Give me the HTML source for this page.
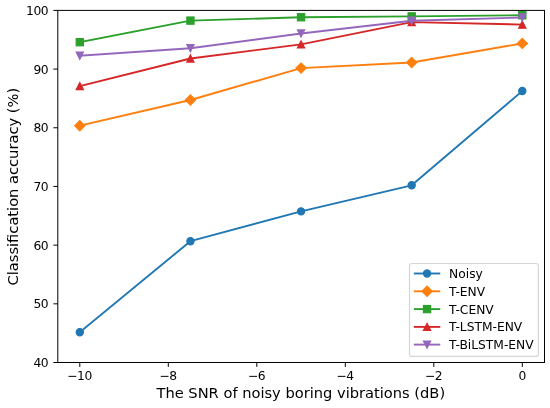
<!DOCTYPE html>
<html lang="en"><head><meta charset="utf-8"><title>Classification accuracy vs SNR</title>
<style>html,body{margin:0;padding:0;background:#fff;overflow:hidden}svg{display:block}text{font-family:"DejaVu Sans","Liberation Sans",sans-serif;fill:#000}</style></head><body>
<svg width="550" height="408" viewBox="0 0 550 408">
<rect width="550" height="408" fill="#fff"/>
<defs><clipPath id="ax"><rect x="57.8" y="10.4" width="486.70" height="352.10"/></clipPath></defs>
<g stroke="#000" stroke-width="1.0">
<line x1="79.80" y1="362.5" x2="79.80" y2="366.90"/>
<line x1="168.30" y1="362.5" x2="168.30" y2="366.90"/>
<line x1="256.80" y1="362.5" x2="256.80" y2="366.90"/>
<line x1="345.30" y1="362.5" x2="345.30" y2="366.90"/>
<line x1="433.80" y1="362.5" x2="433.80" y2="366.90"/>
<line x1="522.30" y1="362.5" x2="522.30" y2="366.90"/>
<line x1="57.8" y1="362.50" x2="53.40" y2="362.50"/>
<line x1="57.8" y1="303.82" x2="53.40" y2="303.82"/>
<line x1="57.8" y1="245.13" x2="53.40" y2="245.13"/>
<line x1="57.8" y1="186.45" x2="53.40" y2="186.45"/>
<line x1="57.8" y1="127.77" x2="53.40" y2="127.77"/>
<line x1="57.8" y1="69.08" x2="53.40" y2="69.08"/>
<line x1="57.8" y1="10.40" x2="53.40" y2="10.40"/>
</g>
<g font-size="12.3" letter-spacing="-0.4">
<text x="79.60" y="380.1" text-anchor="middle">−10</text>
<text x="168.10" y="380.1" text-anchor="middle">−8</text>
<text x="256.60" y="380.1" text-anchor="middle">−6</text>
<text x="345.10" y="380.1" text-anchor="middle">−4</text>
<text x="433.60" y="380.1" text-anchor="middle">−2</text>
<text x="522.10" y="380.1" text-anchor="middle">0</text>
<text x="48.3" y="367.00" text-anchor="end">40</text>
<text x="48.3" y="308.32" text-anchor="end">50</text>
<text x="48.3" y="249.63" text-anchor="end">60</text>
<text x="48.3" y="190.95" text-anchor="end">70</text>
<text x="48.3" y="132.27" text-anchor="end">80</text>
<text x="48.3" y="73.58" text-anchor="end">90</text>
<text x="48.3" y="14.90" text-anchor="end">100</text>
</g>
<text x="300.8" y="398.3" font-size="14.65" text-anchor="middle">The SNR of noisy boring vibrations (dB)</text>
<text transform="translate(17.6 186.7) rotate(-90)" font-size="14.65" text-anchor="middle">Classification accuracy (%)</text>
<g clip-path="url(#ax)">
<polyline points="79.80,332.20 190.43,241.20 301.05,211.40 411.68,185.30 522.30,91.00" fill="none" stroke="#1f77b4" stroke-width="1.9" stroke-linejoin="round" stroke-linecap="square"/>
<circle cx="79.80" cy="332.20" r="3.60" fill="#1f77b4" stroke="#1f77b4" stroke-width="1.2" stroke-linejoin="miter"/>
<circle cx="190.43" cy="241.20" r="3.60" fill="#1f77b4" stroke="#1f77b4" stroke-width="1.2" stroke-linejoin="miter"/>
<circle cx="301.05" cy="211.40" r="3.60" fill="#1f77b4" stroke="#1f77b4" stroke-width="1.2" stroke-linejoin="miter"/>
<circle cx="411.68" cy="185.30" r="3.60" fill="#1f77b4" stroke="#1f77b4" stroke-width="1.2" stroke-linejoin="miter"/>
<circle cx="522.30" cy="91.00" r="3.60" fill="#1f77b4" stroke="#1f77b4" stroke-width="1.2" stroke-linejoin="miter"/>
<polyline points="79.80,125.70 190.43,100.00 301.05,68.10 411.68,62.50 522.30,43.40" fill="none" stroke="#ff7f0e" stroke-width="1.9" stroke-linejoin="round" stroke-linecap="square"/>
<path d="M79.80 120.61L84.89 125.70L79.80 130.79L74.71 125.70Z" fill="#ff7f0e" stroke="#ff7f0e" stroke-width="1.2" stroke-linejoin="miter"/>
<path d="M190.43 94.91L195.52 100.00L190.43 105.09L185.33 100.00Z" fill="#ff7f0e" stroke="#ff7f0e" stroke-width="1.2" stroke-linejoin="miter"/>
<path d="M301.05 63.01L306.14 68.10L301.05 73.19L295.96 68.10Z" fill="#ff7f0e" stroke="#ff7f0e" stroke-width="1.2" stroke-linejoin="miter"/>
<path d="M411.68 57.41L416.77 62.50L411.68 67.59L406.58 62.50Z" fill="#ff7f0e" stroke="#ff7f0e" stroke-width="1.2" stroke-linejoin="miter"/>
<path d="M522.30 38.31L527.39 43.40L522.30 48.49L517.21 43.40Z" fill="#ff7f0e" stroke="#ff7f0e" stroke-width="1.2" stroke-linejoin="miter"/>
<polyline points="79.80,42.20 190.43,20.60 301.05,17.25 411.68,16.40 522.30,15.20" fill="none" stroke="#2ca02c" stroke-width="1.9" stroke-linejoin="round" stroke-linecap="square"/>
<rect x="76.20" y="38.60" width="7.20" height="7.20" fill="#2ca02c" stroke="#2ca02c" stroke-width="1.2" stroke-linejoin="miter"/>
<rect x="186.83" y="17.00" width="7.20" height="7.20" fill="#2ca02c" stroke="#2ca02c" stroke-width="1.2" stroke-linejoin="miter"/>
<rect x="297.45" y="13.65" width="7.20" height="7.20" fill="#2ca02c" stroke="#2ca02c" stroke-width="1.2" stroke-linejoin="miter"/>
<rect x="408.07" y="12.80" width="7.20" height="7.20" fill="#2ca02c" stroke="#2ca02c" stroke-width="1.2" stroke-linejoin="miter"/>
<rect x="518.70" y="11.60" width="7.20" height="7.20" fill="#2ca02c" stroke="#2ca02c" stroke-width="1.2" stroke-linejoin="miter"/>
<polyline points="79.80,86.10 190.43,58.50 301.05,44.40 411.68,22.10 522.30,24.60" fill="none" stroke="#d62728" stroke-width="1.9" stroke-linejoin="round" stroke-linecap="square"/>
<path d="M79.80 82.50L83.40 89.70L76.20 89.70Z" fill="#d62728" stroke="#d62728" stroke-width="1.2" stroke-linejoin="miter"/>
<path d="M190.43 54.90L194.03 62.10L186.83 62.10Z" fill="#d62728" stroke="#d62728" stroke-width="1.2" stroke-linejoin="miter"/>
<path d="M301.05 40.80L304.65 48.00L297.45 48.00Z" fill="#d62728" stroke="#d62728" stroke-width="1.2" stroke-linejoin="miter"/>
<path d="M411.68 18.50L415.28 25.70L408.07 25.70Z" fill="#d62728" stroke="#d62728" stroke-width="1.2" stroke-linejoin="miter"/>
<path d="M522.30 21.00L525.90 28.20L518.70 28.20Z" fill="#d62728" stroke="#d62728" stroke-width="1.2" stroke-linejoin="miter"/>
<polyline points="79.80,55.70 190.43,48.20 301.05,33.50 411.68,20.70 522.30,17.50" fill="none" stroke="#9467bd" stroke-width="1.9" stroke-linejoin="round" stroke-linecap="square"/>
<path d="M79.80 59.30L83.40 52.10L76.20 52.10Z" fill="#9467bd" stroke="#9467bd" stroke-width="1.2" stroke-linejoin="miter"/>
<path d="M190.43 51.80L194.03 44.60L186.83 44.60Z" fill="#9467bd" stroke="#9467bd" stroke-width="1.2" stroke-linejoin="miter"/>
<path d="M301.05 37.10L304.65 29.90L297.45 29.90Z" fill="#9467bd" stroke="#9467bd" stroke-width="1.2" stroke-linejoin="miter"/>
<path d="M411.68 24.30L415.28 17.10L408.07 17.10Z" fill="#9467bd" stroke="#9467bd" stroke-width="1.2" stroke-linejoin="miter"/>
<path d="M522.30 21.10L525.90 13.90L518.70 13.90Z" fill="#9467bd" stroke="#9467bd" stroke-width="1.2" stroke-linejoin="miter"/>
</g>
<rect x="57.8" y="10.4" width="486.70" height="352.10" fill="none" stroke="#000" stroke-width="1.0" stroke-linejoin="miter"/>
<rect x="409.5" y="263.5" width="128.90" height="92.90" rx="2.5" ry="2.5" fill="#fff" fill-opacity="0.8" stroke="#ccc" stroke-opacity="0.8" stroke-width="1.2"/>
<g font-size="12.25">
<line x1="414.8" y1="273.5" x2="439.3" y2="273.5" stroke="#1f77b4" stroke-width="1.9" stroke-linecap="square"/>
<circle cx="427.05" cy="273.50" r="3.60" fill="#1f77b4" stroke="#1f77b4" stroke-width="1.2" stroke-linejoin="miter"/>
<text x="449.1" y="278.30">Noisy</text>
<line x1="414.8" y1="291.3" x2="439.3" y2="291.3" stroke="#ff7f0e" stroke-width="1.9" stroke-linecap="square"/>
<path d="M427.05 286.21L432.14 291.30L427.05 296.39L421.96 291.30Z" fill="#ff7f0e" stroke="#ff7f0e" stroke-width="1.2" stroke-linejoin="miter"/>
<text x="449.1" y="296.00">T-ENV</text>
<line x1="414.8" y1="309.1" x2="439.3" y2="309.1" stroke="#2ca02c" stroke-width="1.9" stroke-linecap="square"/>
<rect x="423.45" y="305.50" width="7.20" height="7.20" fill="#2ca02c" stroke="#2ca02c" stroke-width="1.2" stroke-linejoin="miter"/>
<text x="449.1" y="313.60">T-CENV</text>
<line x1="414.8" y1="326.9" x2="439.3" y2="326.9" stroke="#d62728" stroke-width="1.9" stroke-linecap="square"/>
<path d="M427.05 323.30L430.65 330.50L423.45 330.50Z" fill="#d62728" stroke="#d62728" stroke-width="1.2" stroke-linejoin="miter"/>
<text x="449.1" y="330.90">T-LSTM-ENV</text>
<line x1="414.8" y1="344.6" x2="439.3" y2="344.6" stroke="#9467bd" stroke-width="1.9" stroke-linecap="square"/>
<path d="M427.05 348.20L430.65 341.00L423.45 341.00Z" fill="#9467bd" stroke="#9467bd" stroke-width="1.2" stroke-linejoin="miter"/>
<text x="449.1" y="348.60">T-BiLSTM-ENV</text>
</g>
</svg></body></html>
